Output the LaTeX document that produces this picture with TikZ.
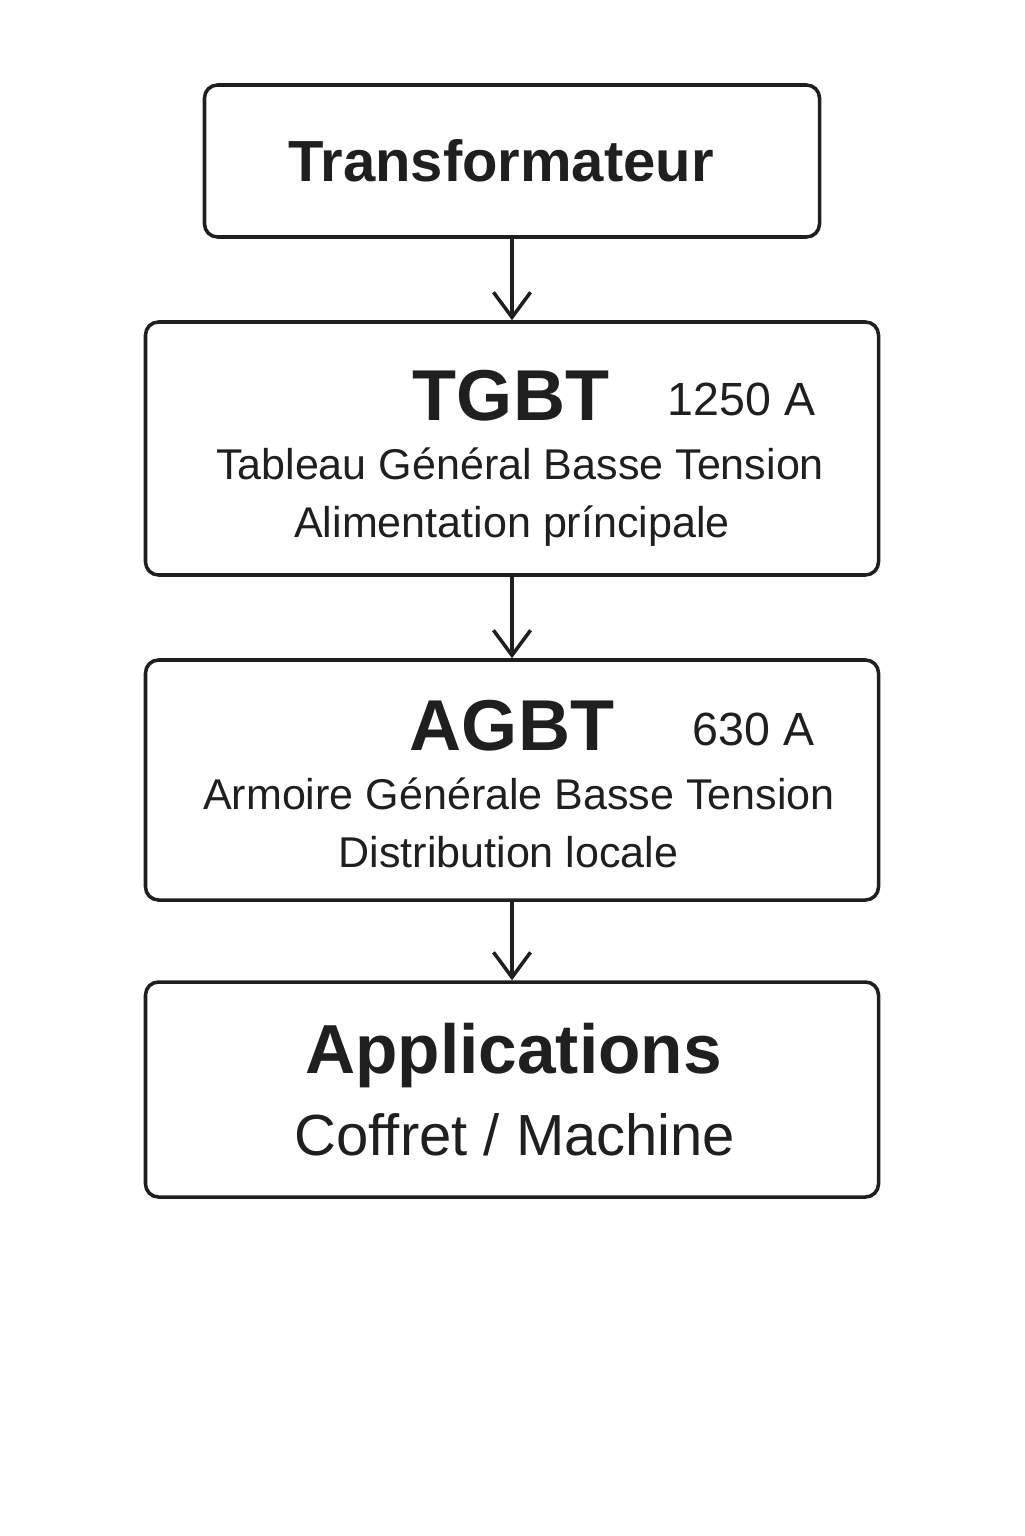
\documentclass[tikz,border=0pt]{standalone}
\usepackage{fontspec}
\setmainfont{Liberation Sans}
\usetikzlibrary{arrows.meta,positioning}
\begin{document}
\begin{tikzpicture}[box/.style={draw=black!88, line width=2pt, rounded corners=0.26cm, minimum width=14.66cm, minimum height=#1, inner sep=0pt}, txt/.style={anchor=base, inner sep=0pt, text=black!88, font=\fontsize{#1}{#1}\selectfont}, >={Straight Barb[length=0.5cm, width=0.74cm, line width=2pt]}]
\useasboundingbox (0,0) rectangle (20.48,-30.72);
\node[box=3.04cm, minimum width=12.3cm] (trafo) at (10.24,-3.22) {};
\node[box=5.06cm] (tgbt) at (10.24,-8.97) {}; \node[box=4.8cm] (agbt) at (10.24,-15.6) {}; \node[box=4.3cm] (appli) at (10.24,-21.79) {};
\foreach \a/\b in {trafo/tgbt, tgbt/agbt, agbt/appli} \draw[->, line width=2pt, black!88] (\a.south) -- (\b.north);
\foreach \n/\x/\y/\s/\t in {trafoT/10.02/-3.64/33pt/Transformateur, tgbtT/10.22/-8.40/41pt/TGBT, agbtT/10.24/-15.0/41pt/AGBT, appliT/10.27/-21.46/39.5pt/Applications} \node[txt=\s] (\n) at (\x,\y) {\bfseries\t};
\foreach \n/\x/\y/\s/\t in {tgbtI/14.83/-8.30/26.5pt/1250 A, tgbtN/10.40/-9.58/24.5pt/Tableau Général Basse Tension, tgbtD/10.24/-10.74/24.5pt/Alimentation príncipale, agbtI/15.07/-14.9/26.5pt/630 A, agbtN/10.38/-16.18/24.5pt/Armoire Générale Basse Tension, agbtD/10.17/-17.34/24.5pt/Distribution locale, appliD/10.30/-23.10/33pt/{Coffret / Machine}} \node[txt=\s] (\n) at (\x,\y) {\t};
\end{tikzpicture}
\end{document}
